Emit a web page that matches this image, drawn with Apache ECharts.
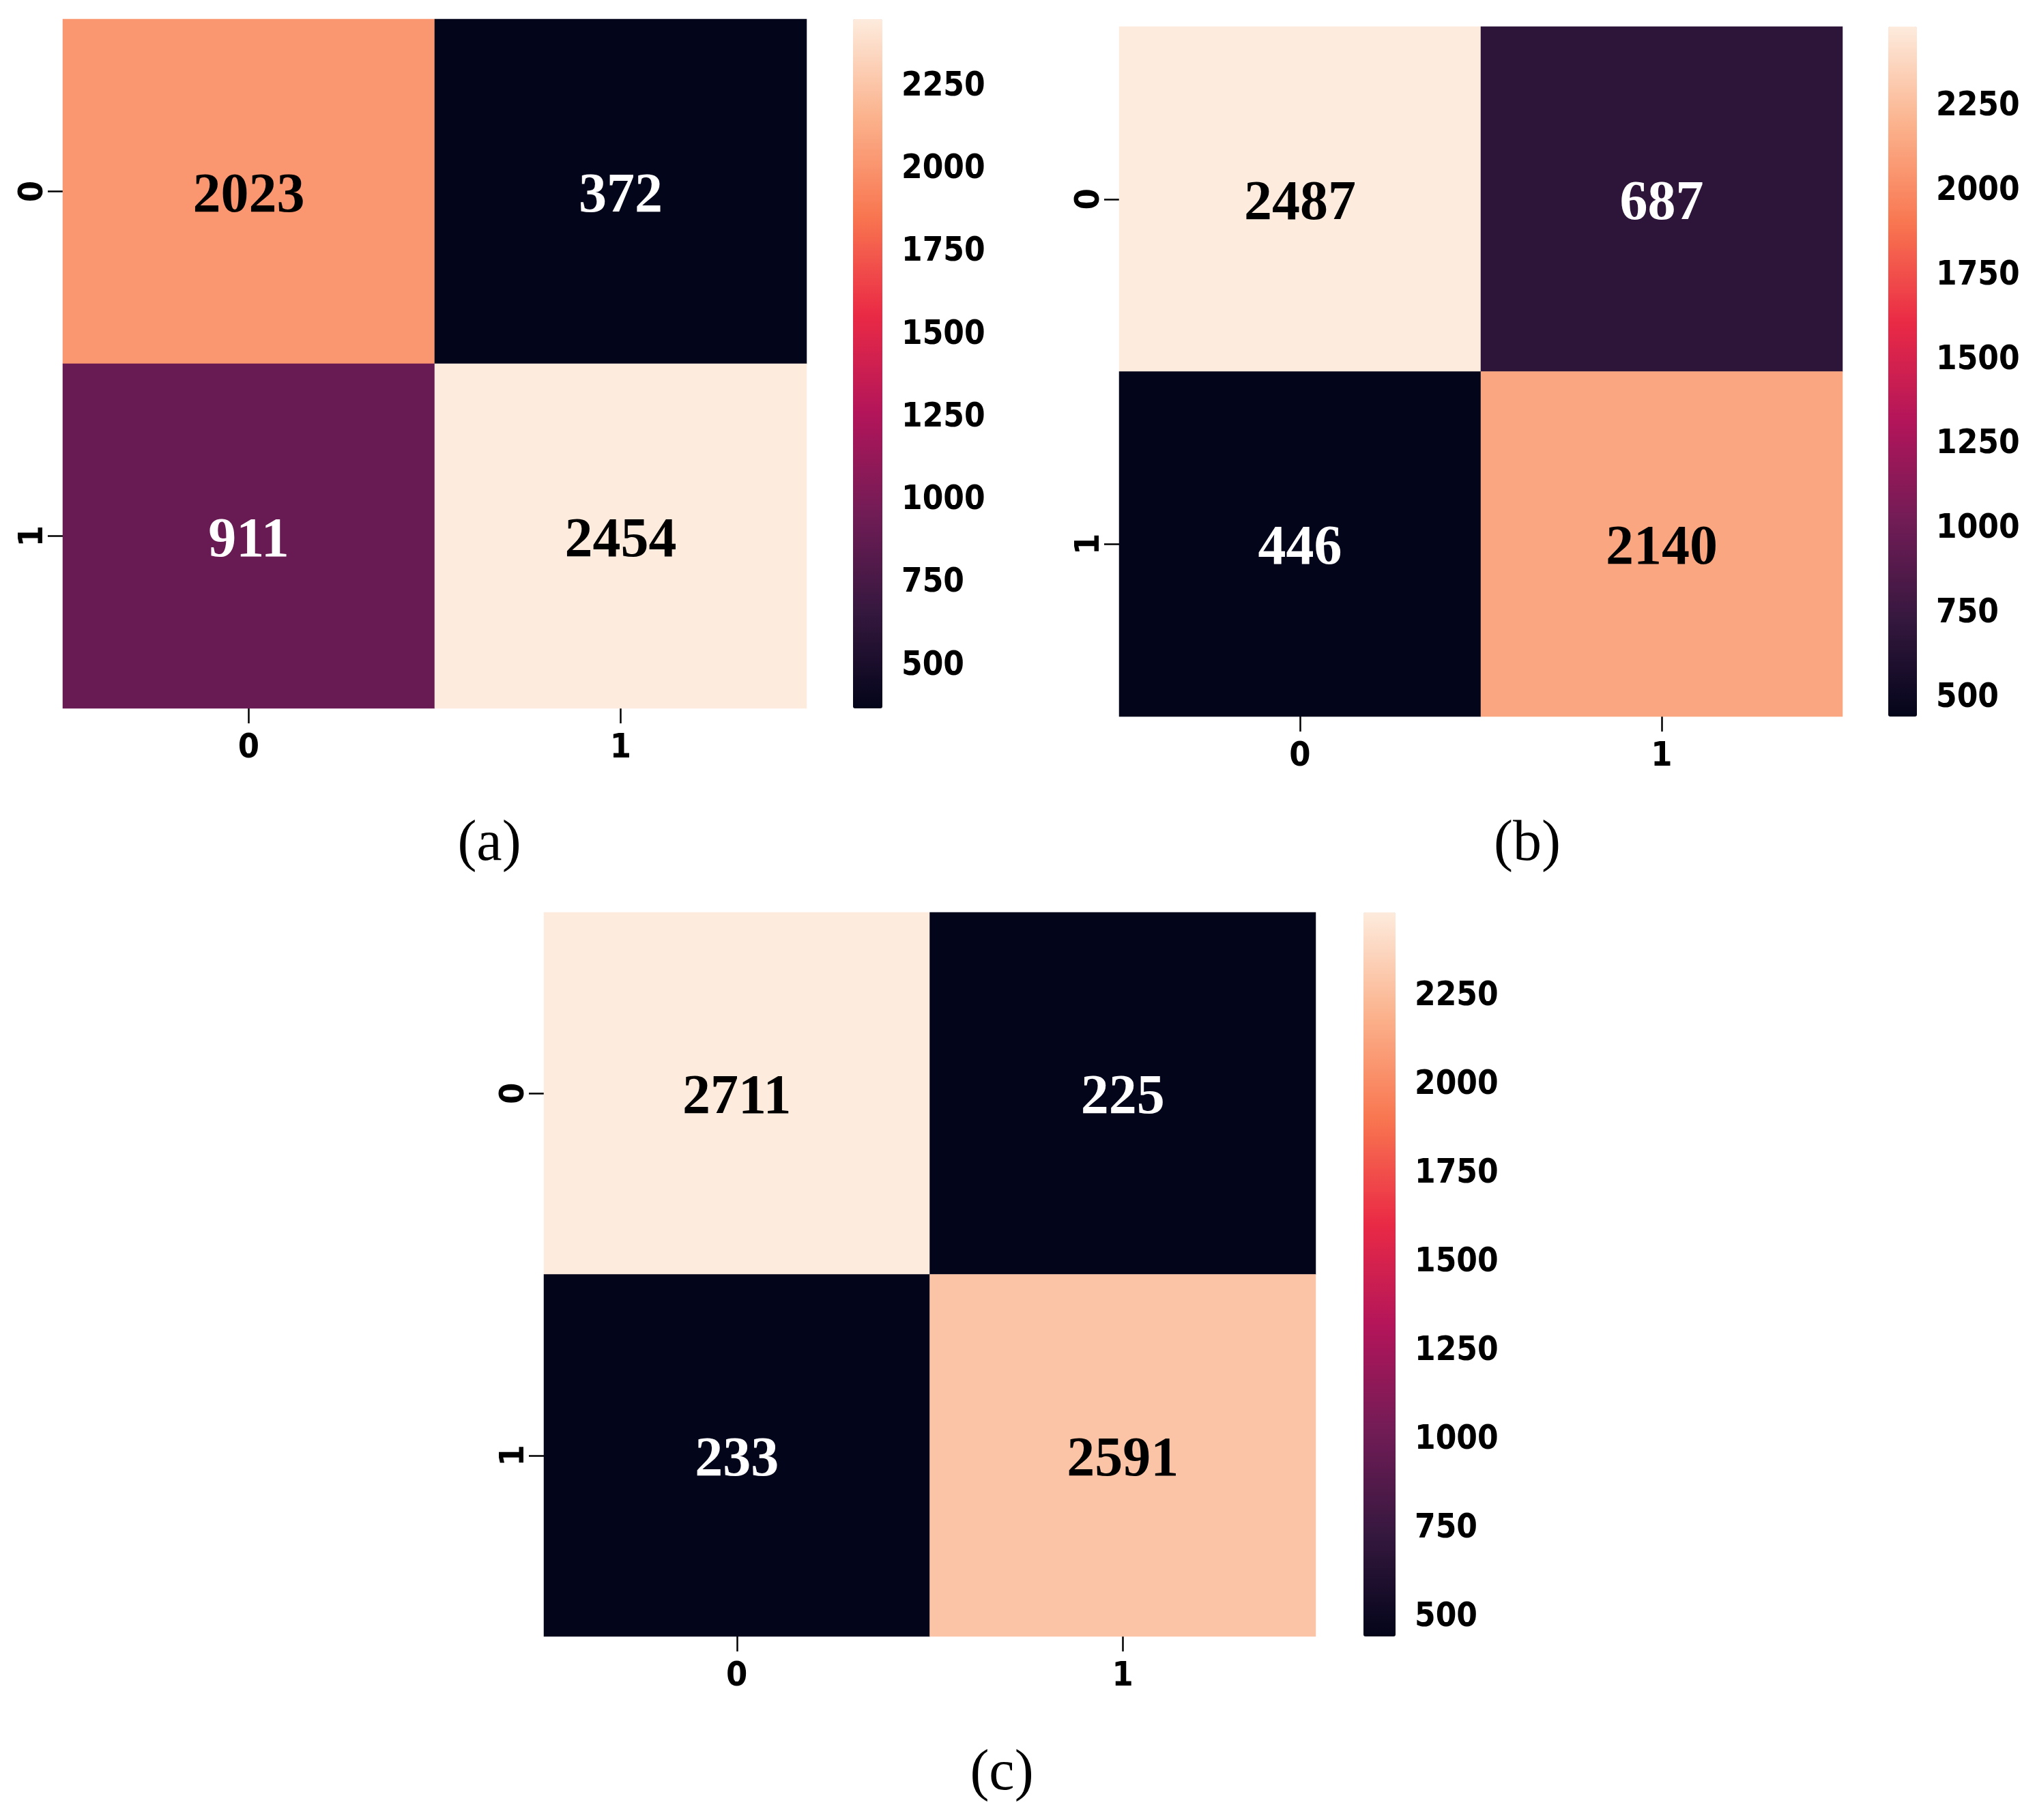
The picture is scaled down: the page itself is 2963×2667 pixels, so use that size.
<!DOCTYPE html>
<html><head><meta charset="utf-8">
<script src="https://cdn.jsdelivr.net/npm/echarts@6/dist/echarts.min.js"></script>
<style>html,body{margin:0;padding:0;background:#fff}#c{width:2963px;height:2667px}</style>
</head><body><div id="c"></div>
<script>
// ---- data ----
const classes = ['0', '1'];
const colorbarTicks = [500, 750, 1000, 1250, 1500, 1750, 2000, 2250];
// rows = true class (y, top to bottom), columns = predicted class (x)
const matrixA = [[2023, 372], [911, 2454]];
const matrixB = [[2487, 687], [446, 2140]];
const matrixC = [[2711, 225], [233, 2591]];
// cell shades as implied by colours in the picture (panel c's bottom-right cell is drawn lighter-peach)
const shadeA = matrixA;
const shadeB = matrixB;
const shadeC = [[2711, 225], [233, 2290]];
// colour-bar ranges
const rangeA = [372, 2454];
const rangeB = [446, 2487];
const rangeC = [446, 2487];
const captions = ['(a)', '(b)', '(c)'];

// ---- styling / layout ----
const rocket = ['#03051A', '#36183F', '#721C56', '#B3155A', '#EA2A45', '#F87650', '#FBB28C', '#FDEBDD'];
const panels = [
  { m: matrixA, s: shadeA, r: rangeA, hm: { left: 92, top: 28, width: 1090, height: 1010 }, cb: { left: 1250, width: 43 }, cap: [717, 1238] },
  { m: matrixB, s: shadeB, r: rangeB, hm: { left: 1640, top: 39, width: 1060, height: 1011 }, cb: { left: 2767, width: 42 }, cap: [2238, 1238] },
  { m: matrixC, s: shadeC, r: rangeC, hm: { left: 797, top: 1337, width: 1131, height: 1061 }, cb: { left: 1998, width: 47 }, cap: [1468, 2600] }
];
const tickFont = "'Liberation Sans Narrow','DejaVu Sans Condensed','Liberation Sans',Arial,sans-serif";
const serif = "'Liberation Serif','Times New Roman',serif";

const grid = [], xAxis = [], yAxis = [], series = [], visualMap = [], graphic = [];
panels.forEach((p, i) => {
  const g = grid.length;
  grid.push({ left: p.hm.left, top: p.hm.top, width: p.hm.width, height: p.hm.height, containLabel: false });
  xAxis.push({
    type: 'category', gridIndex: g, data: classes,
    axisLine: { show: false },
    axisTick: { show: true, alignWithLabel: true, length: 22, lineStyle: { color: '#000', width: 2.5 } },
    axisLabel: { margin: 34, fontFamily: tickFont, fontWeight: 'bold', fontSize: 50, color: '#000' },
    splitLine: { show: false }, splitArea: { show: false }
  });
  yAxis.push({
    type: 'category', gridIndex: g, data: classes, inverse: true,
    axisLine: { show: false },
    axisTick: { show: true, alignWithLabel: true, length: 22, lineStyle: { color: '#000', width: 2.5 } },
    axisLabel: { margin: 18, rotate: 90, fontFamily: tickFont, fontWeight: 'bold', fontSize: 50, color: '#000' },
    splitLine: { show: false }, splitArea: { show: false }
  });
  const data = [];
  for (let r = 0; r < 2; r++) for (let c = 0; c < 2; c++) {
    const v = p.s[r][c];
    const t = (v - p.r[0]) / (p.r[1] - p.r[0]);
    data.push({ value: [c, r, v, p.m[r][c]], label: { color: t < 0.5 ? '#fff' : '#000' } });
  }
  series.push({
    type: 'heatmap', xAxisIndex: g, yAxisIndex: g, data: data,
    itemStyle: { borderWidth: 0 },
    emphasis: { disabled: true },
    label: { show: true, offset: [0, 8], formatter: prm => String(prm.value[3]), fontFamily: serif, fontWeight: 'bold', fontSize: 82 }
  });
  visualMap.push({
    type: 'continuous', seriesIndex: series.length - 1, dimension: 2,
    min: p.r[0], max: p.r[1], inRange: { color: rocket },
    left: p.cb.left, top: p.hm.top, itemWidth: p.cb.width, itemHeight: p.hm.height,
    padding: 0, calculable: false, hoverLink: false, orient: 'vertical', text: null, showLabel: false
  });
  // colour-bar axis (ticks + labels)
  const cg = grid.length;
  grid.push({ left: p.cb.left, top: p.hm.top, width: p.cb.width, height: p.hm.height, containLabel: false });
  xAxis.push({ type: 'value', gridIndex: cg, show: false, min: 0, max: 1 });
  yAxis.push({
    type: 'value', gridIndex: cg, position: 'right', min: p.r[0], max: p.r[1],
    axisLine: { show: false },
    axisTick: { show: true, length: 20, customValues: colorbarTicks, lineStyle: { color: '#000', width: 3 } },
    axisLabel: { show: true, customValues: colorbarTicks, formatter: v => String(v), margin: 28, fontFamily: tickFont, fontWeight: 'bold', fontSize: 49, color: '#000' },
    splitLine: { show: false }
  });
  graphic.push({
    type: 'text', x: p.cap[0], y: p.cap[1],
    style: { text: captions[i], font: "84px " + serif, fill: '#000', align: 'center', verticalAlign: 'middle' }
  });
});

const chart = echarts.init(document.getElementById('c'), null, { renderer: 'canvas' });
chart.setOption({ animation: false, backgroundColor: '#fff', grid, xAxis, yAxis, series, visualMap, graphic });
</script>
</body></html>
